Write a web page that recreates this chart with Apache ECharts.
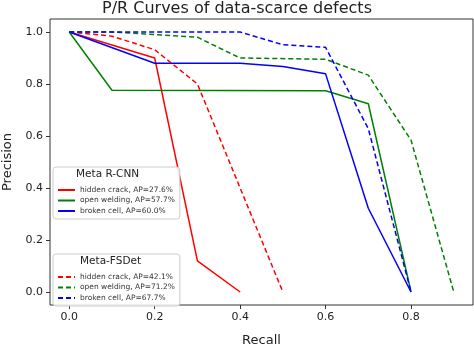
<!DOCTYPE html>
<html><head><meta charset="utf-8">
<script src="https://cdn.jsdelivr.net/npm/echarts@6/dist/echarts.min.js"></script>
<style>html,body{margin:0;padding:0;background:#fff}#c{width:474px;height:348px}</style>
</head><body><div id="c"></div>
<script>
const recallTicks = [0.0, 0.2, 0.4, 0.6, 0.8];
const precisionTicks = [0.0, 0.2, 0.4, 0.6, 0.8, 1.0];

const rcnnHiddenRecall = [0.0, 0.2, 0.3, 0.4];
const rcnnHiddenPrec   = [1.0, 0.90, 0.12, 0.0];
const rcnnWeldRecall   = [0.0, 0.1, 0.6, 0.7, 0.8];
const rcnnWeldPrec     = [1.0, 0.776, 0.774, 0.724, 0.0];
const rcnnCellRecall   = [0.0, 0.2, 0.4, 0.5, 0.6, 0.7, 0.8];
const rcnnCellPrec     = [1.0, 0.88, 0.88, 0.867, 0.839, 0.322, 0.0];

const fsHiddenRecall = [0.0, 0.1, 0.2, 0.3, 0.5];
const fsHiddenPrec   = [1.0, 0.984, 0.932, 0.80, 0.0];
const fsWeldRecall   = [0.0, 0.1, 0.3, 0.4, 0.6, 0.7, 0.8, 0.9];
const fsWeldPrec     = [1.0, 1.0, 0.98, 0.90, 0.895, 0.834, 0.584, 0.0];
const fsCellRecall   = [0.0, 0.4, 0.5, 0.6, 0.7, 0.8];
const fsCellPrec     = [1.0, 1.0, 0.951, 0.941, 0.628, 0.0];

const names = {
  rh: 'hidden crack, AP=27.6%', rw: 'open welding, AP=57.7%', rc: 'broken cell, AP=60.0%',
  fh: 'hidden crack, AP=42.1%', fw: 'open welding, AP=71.2%', fc: 'broken cell, AP=67.7%'
};

function pairs(xs, ys){ return xs.map((x,i)=>[x, ys[i]]); }
function ser(name, xs, ys, color, dashed){
  return {name, type:'line', data:pairs(xs,ys), symbol:'none', showSymbol:false,
    lineStyle:{color, width:1.5, type: dashed ? [5,3] : 'solid'}, itemStyle:{color}, z: dashed?3:2};
}
const font = 'DejaVu Sans';
const chart = echarts.init(document.getElementById('c'), null, {renderer:'canvas'});
const legendCommon = {orient:'vertical', left:53, itemWidth:17, itemHeight:8, itemGap:2.5,
  textStyle:{fontSize:7.5, color:'#333', fontFamily:font}, borderColor:'#ccc', borderWidth:1, borderRadius:3,
  backgroundColor:'rgba(255,255,255,0.85)', padding:[19,5,4,4], itemStyle:{opacity:0}};
chart.setOption({
  animation:false,
  textStyle:{fontFamily:font},
  grid:{left:50, right:1, top:19, bottom:43, show:true, borderColor:'#333', borderWidth:1, outerBoundsMode:'none', containLabel:false},
  xAxis:{type:'value', min:-0.045, max:0.945, name:'Recall', nameLocation:'middle', nameGap:29,
    nameTextStyle:{fontSize:13, color:'#222', fontFamily:font},
    axisLine:{show:false, onZero:false}, splitLine:{show:false},
    axisTick:{show:true, inside:false, length:4, customValues:recallTicks, lineStyle:{color:'#333'}},
    axisLabel:{customValues:recallTicks, fontSize:11, color:'#222', margin:7, formatter:v=>v.toFixed(1)}},
  yAxis:{type:'value', min:-0.05, max:1.05, name:'Precision', nameLocation:'middle', nameGap:32,
    nameTextStyle:{fontSize:13, color:'#222', fontFamily:font},
    axisLine:{show:false, onZero:false}, splitLine:{show:false},
    axisTick:{show:true, inside:false, length:4, customValues:precisionTicks, lineStyle:{color:'#333'}},
    axisLabel:{customValues:precisionTicks, fontSize:11, color:'#222', margin:7, formatter:v=>v.toFixed(1)}},
  title:{text:'P/R Curves of data-scarce defects', left:'center', top:1, padding:0,
    textStyle:{fontSize:16, fontWeight:'normal', color:'#222', fontFamily:font}},
  legend:[
    Object.assign({}, legendCommon, {top:167, data:[names.rh, names.rw, names.rc]}),
    Object.assign({}, legendCommon, {top:254, data:[names.fh, names.fw, names.fc]})
  ],
  graphic:[
    {type:'text', left:76, top:169, z:100, style:{text:'Meta R-CNN', fontSize:10.5, fill:'#222', fontFamily:font}},
    {type:'text', left:80, top:256, z:100, style:{text:'Meta-FSDet', fontSize:10.5, fill:'#222', fontFamily:font}}
  ],
  series:[
    ser(names.rh, rcnnHiddenRecall, rcnnHiddenPrec, '#ff0000', false),
    ser(names.rw, rcnnWeldRecall, rcnnWeldPrec, '#008000', false),
    ser(names.rc, rcnnCellRecall, rcnnCellPrec, '#0000ff', false),
    ser(names.fh, fsHiddenRecall, fsHiddenPrec, '#ff0000', true),
    ser(names.fw, fsWeldRecall, fsWeldPrec, '#008000', true),
    ser(names.fc, fsCellRecall, fsCellPrec, '#0000ff', true)
  ]
});
</script></body></html>
